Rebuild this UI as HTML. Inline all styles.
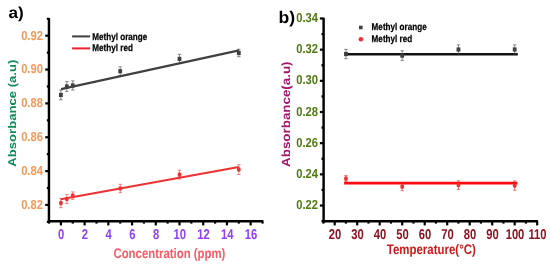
<!DOCTYPE html>
<html lang="en"><head><meta charset="utf-8"><title>Absorbance plots</title>
<style>
html,body{margin:0;padding:0;background:#fff;}
body{width:550px;height:264px;overflow:hidden;}
svg{display:block;font-family:"Liberation Sans", Arial, Helvetica, sans-serif;}
</style></head>
<body>
<svg width="550" height="264" viewBox="0 0 550 264" text-rendering="geometricPrecision">
<rect width="550" height="264" fill="#ffffff"/>
<path d="M48.95,17.97 V222.42" stroke="#000" stroke-width="2.45" fill="none"/>
<path d="M47.73,221.20 H263.32" stroke="#000" stroke-width="2.45" fill="none"/>
<path d="M46.83,221.88 H48.95" stroke="#000" stroke-width="2.2"/>
<path d="M45.23,204.95 H48.95" stroke="#000" stroke-width="2.2"/>
<path d="M46.83,188.02 H48.95" stroke="#000" stroke-width="2.2"/>
<path d="M45.23,171.10 H48.95" stroke="#000" stroke-width="2.2"/>
<path d="M46.83,154.17 H48.95" stroke="#000" stroke-width="2.2"/>
<path d="M45.23,137.25 H48.95" stroke="#000" stroke-width="2.2"/>
<path d="M46.83,120.32 H48.95" stroke="#000" stroke-width="2.2"/>
<path d="M45.23,103.40 H48.95" stroke="#000" stroke-width="2.2"/>
<path d="M46.83,86.48 H48.95" stroke="#000" stroke-width="2.2"/>
<path d="M45.23,69.55 H48.95" stroke="#000" stroke-width="2.2"/>
<path d="M46.83,52.63 H48.95" stroke="#000" stroke-width="2.2"/>
<path d="M45.23,35.70 H48.95" stroke="#000" stroke-width="2.2"/>
<path d="M46.83,18.77 H48.95" stroke="#000" stroke-width="2.2"/>
<path d="M49.04,221.20 V223.62" stroke="#000" stroke-width="2.2"/>
<path d="M60.90,221.20 V225.42" stroke="#000" stroke-width="2.2"/>
<path d="M72.76,221.20 V223.62" stroke="#000" stroke-width="2.2"/>
<path d="M84.62,221.20 V225.42" stroke="#000" stroke-width="2.2"/>
<path d="M96.48,221.20 V223.62" stroke="#000" stroke-width="2.2"/>
<path d="M108.34,221.20 V225.42" stroke="#000" stroke-width="2.2"/>
<path d="M120.20,221.20 V223.62" stroke="#000" stroke-width="2.2"/>
<path d="M132.06,221.20 V225.42" stroke="#000" stroke-width="2.2"/>
<path d="M143.92,221.20 V223.62" stroke="#000" stroke-width="2.2"/>
<path d="M155.78,221.20 V225.42" stroke="#000" stroke-width="2.2"/>
<path d="M167.64,221.20 V223.62" stroke="#000" stroke-width="2.2"/>
<path d="M179.50,221.20 V225.42" stroke="#000" stroke-width="2.2"/>
<path d="M191.36,221.20 V223.62" stroke="#000" stroke-width="2.2"/>
<path d="M203.22,221.20 V225.42" stroke="#000" stroke-width="2.2"/>
<path d="M215.08,221.20 V223.62" stroke="#000" stroke-width="2.2"/>
<path d="M226.94,221.20 V225.42" stroke="#000" stroke-width="2.2"/>
<path d="M238.80,221.20 V223.62" stroke="#000" stroke-width="2.2"/>
<path d="M250.66,221.20 V225.42" stroke="#000" stroke-width="2.2"/>
<path d="M262.52,221.20 V223.62" stroke="#000" stroke-width="2.2"/>
<text transform="translate(42.90,208.85) scale(0.86,1)" font-size="13.0" font-weight="bold" fill="#f39a58" text-anchor="end" >0.82</text>
<text transform="translate(42.90,175.00) scale(0.86,1)" font-size="13.0" font-weight="bold" fill="#f39a58" text-anchor="end" >0.84</text>
<text transform="translate(42.90,141.15) scale(0.86,1)" font-size="13.0" font-weight="bold" fill="#f39a58" text-anchor="end" >0.86</text>
<text transform="translate(42.90,107.30) scale(0.86,1)" font-size="13.0" font-weight="bold" fill="#f39a58" text-anchor="end" >0.88</text>
<text transform="translate(42.90,73.45) scale(0.86,1)" font-size="13.0" font-weight="bold" fill="#f39a58" text-anchor="end" >0.90</text>
<text transform="translate(42.90,39.60) scale(0.86,1)" font-size="13.0" font-weight="bold" fill="#f39a58" text-anchor="end" >0.92</text>
<text transform="translate(61.20,239.00) scale(0.79,1)" font-size="14.2" font-weight="bold" fill="#9040f8" text-anchor="middle" >0</text>
<text transform="translate(84.92,239.00) scale(0.79,1)" font-size="14.2" font-weight="bold" fill="#9040f8" text-anchor="middle" >2</text>
<text transform="translate(108.64,239.00) scale(0.79,1)" font-size="14.2" font-weight="bold" fill="#9040f8" text-anchor="middle" >4</text>
<text transform="translate(132.36,239.00) scale(0.79,1)" font-size="14.2" font-weight="bold" fill="#9040f8" text-anchor="middle" >6</text>
<text transform="translate(156.08,239.00) scale(0.79,1)" font-size="14.2" font-weight="bold" fill="#9040f8" text-anchor="middle" >8</text>
<text transform="translate(179.80,239.00) scale(0.79,1)" font-size="14.2" font-weight="bold" fill="#9040f8" text-anchor="middle" >10</text>
<text transform="translate(203.52,239.00) scale(0.79,1)" font-size="14.2" font-weight="bold" fill="#9040f8" text-anchor="middle" >12</text>
<text transform="translate(227.24,239.00) scale(0.79,1)" font-size="14.2" font-weight="bold" fill="#9040f8" text-anchor="middle" >14</text>
<text transform="translate(250.96,239.00) scale(0.79,1)" font-size="14.2" font-weight="bold" fill="#9040f8" text-anchor="middle" >16</text>
<text transform="translate(15.90,113.20) rotate(-90) scale(1.17,1)" font-size="11.2" font-weight="bold" fill="#0d8c5a" text-anchor="middle" >Absorbance (a.u)</text>
<text transform="translate(169.40,258.30) scale(0.825,1)" font-size="13.8" font-weight="bold" fill="#f85a62" text-anchor="middle" >Concentration (ppm)</text>
<text transform="translate(8.40,17.70) scale(1.07,1)" font-size="16.0" font-weight="bold" fill="#000" text-anchor="start" >a)</text>
<path d="M72.1,36.4 H90.1" stroke="#404040" stroke-width="2.0"/>
<path d="M72.1,48.4 H90.1" stroke="#f02030" stroke-width="2.0"/>
<text transform="translate(92.20,39.50) scale(0.83,1)" font-size="9.8" font-weight="bold" fill="#000" text-anchor="start" stroke="#000" stroke-width="0.25">Methyl orange</text>
<text transform="translate(92.20,51.30) scale(0.83,1)" font-size="9.8" font-weight="bold" fill="#000" text-anchor="start" stroke="#000" stroke-width="0.25">Methyl red</text>
<path d="M61.1,89.1 L239.0,50.4" stroke="#404040" stroke-width="2.1" fill="none"/>
<path d="M60.90,90.03 V99.85 M59.20,90.03 H62.60 M59.20,99.85 H62.60" stroke="#404040" stroke-width="0.75" fill="none" opacity="0.8"/>
<rect x="59.00" y="92.84" width="3.8" height="4.2" fill="#404040"/>
<path d="M66.83,81.57 V91.38 M65.13,81.57 H68.53 M65.13,91.38 H68.53" stroke="#404040" stroke-width="0.75" fill="none" opacity="0.8"/>
<rect x="64.93" y="84.38" width="3.8" height="4.2" fill="#404040"/>
<path d="M72.76,80.89 V90.03 M71.06,80.89 H74.46 M71.06,90.03 H74.46" stroke="#404040" stroke-width="0.75" fill="none" opacity="0.8"/>
<rect x="70.86" y="83.36" width="3.8" height="4.2" fill="#404040"/>
<path d="M120.20,66.84 V75.64 M118.50,66.84 H121.90 M118.50,75.64 H121.90" stroke="#404040" stroke-width="0.75" fill="none" opacity="0.8"/>
<rect x="118.30" y="69.14" width="3.8" height="4.2" fill="#404040"/>
<path d="M179.50,54.32 V63.46 M177.80,54.32 H181.20 M177.80,63.46 H181.20" stroke="#404040" stroke-width="0.75" fill="none" opacity="0.8"/>
<rect x="177.60" y="56.79" width="3.8" height="4.2" fill="#404040"/>
<path d="M238.80,49.24 V56.69 M237.10,49.24 H240.50 M237.10,56.69 H240.50" stroke="#404040" stroke-width="0.75" fill="none" opacity="0.8"/>
<rect x="236.90" y="50.86" width="3.8" height="4.2" fill="#404040"/>
<path d="M60.8,199.2 L238.8,167.0" stroke="#ee3232" stroke-width="2.1" fill="none"/>
<path d="M60.90,198.52 V207.66 M59.20,198.52 H62.60 M59.20,207.66 H62.60" stroke="#ee3232" stroke-width="0.75" fill="none" opacity="0.8"/>
<ellipse cx="60.90" cy="203.09" rx="1.95" ry="2.3" fill="#ee3232"/>
<path d="M66.83,194.63 V203.43 M65.13,194.63 H68.53 M65.13,203.43 H68.53" stroke="#ee3232" stroke-width="0.75" fill="none" opacity="0.8"/>
<ellipse cx="66.83" cy="199.03" rx="1.95" ry="2.3" fill="#ee3232"/>
<path d="M72.76,191.92 V199.36 M71.06,191.92 H74.46 M71.06,199.36 H74.46" stroke="#ee3232" stroke-width="0.75" fill="none" opacity="0.8"/>
<ellipse cx="72.76" cy="195.64" rx="1.95" ry="2.3" fill="#ee3232"/>
<path d="M120.20,184.30 V192.76 M118.50,184.30 H121.90 M118.50,192.76 H121.90" stroke="#ee3232" stroke-width="0.75" fill="none" opacity="0.8"/>
<ellipse cx="120.20" cy="188.53" rx="1.95" ry="2.3" fill="#ee3232"/>
<path d="M179.50,170.25 V179.05 M177.80,170.25 H181.20 M177.80,179.05 H181.20" stroke="#ee3232" stroke-width="0.75" fill="none" opacity="0.8"/>
<ellipse cx="179.50" cy="174.65" rx="1.95" ry="2.3" fill="#ee3232"/>
<path d="M238.80,164.67 V174.49 M237.10,164.67 H240.50 M237.10,174.49 H240.50" stroke="#ee3232" stroke-width="0.75" fill="none" opacity="0.8"/>
<ellipse cx="238.80" cy="169.58" rx="1.95" ry="2.3" fill="#ee3232"/>
<path d="M323.60,17.70 V222.42" stroke="#000" stroke-width="2.45" fill="none"/>
<path d="M322.38,221.20 H538.00" stroke="#000" stroke-width="2.45" fill="none"/>
<path d="M321.48,221.11 H323.60" stroke="#000" stroke-width="2.2"/>
<path d="M319.88,205.52 H323.60" stroke="#000" stroke-width="2.2"/>
<path d="M321.48,189.94 H323.60" stroke="#000" stroke-width="2.2"/>
<path d="M319.88,174.35 H323.60" stroke="#000" stroke-width="2.2"/>
<path d="M321.48,158.77 H323.60" stroke="#000" stroke-width="2.2"/>
<path d="M319.88,143.18 H323.60" stroke="#000" stroke-width="2.2"/>
<path d="M321.48,127.60 H323.60" stroke="#000" stroke-width="2.2"/>
<path d="M319.88,112.01 H323.60" stroke="#000" stroke-width="2.2"/>
<path d="M321.48,96.43 H323.60" stroke="#000" stroke-width="2.2"/>
<path d="M319.88,80.84 H323.60" stroke="#000" stroke-width="2.2"/>
<path d="M321.48,65.26 H323.60" stroke="#000" stroke-width="2.2"/>
<path d="M319.88,49.67 H323.60" stroke="#000" stroke-width="2.2"/>
<path d="M321.48,34.09 H323.60" stroke="#000" stroke-width="2.2"/>
<path d="M319.88,18.50 H323.60" stroke="#000" stroke-width="2.2"/>
<path d="M323.45,221.20 V223.62" stroke="#000" stroke-width="2.2"/>
<path d="M334.70,221.20 V225.42" stroke="#000" stroke-width="2.2"/>
<path d="M345.95,221.20 V223.62" stroke="#000" stroke-width="2.2"/>
<path d="M357.20,221.20 V225.42" stroke="#000" stroke-width="2.2"/>
<path d="M368.45,221.20 V223.62" stroke="#000" stroke-width="2.2"/>
<path d="M379.70,221.20 V225.42" stroke="#000" stroke-width="2.2"/>
<path d="M390.95,221.20 V223.62" stroke="#000" stroke-width="2.2"/>
<path d="M402.20,221.20 V225.42" stroke="#000" stroke-width="2.2"/>
<path d="M413.45,221.20 V223.62" stroke="#000" stroke-width="2.2"/>
<path d="M424.70,221.20 V225.42" stroke="#000" stroke-width="2.2"/>
<path d="M435.95,221.20 V223.62" stroke="#000" stroke-width="2.2"/>
<path d="M447.20,221.20 V225.42" stroke="#000" stroke-width="2.2"/>
<path d="M458.45,221.20 V223.62" stroke="#000" stroke-width="2.2"/>
<path d="M469.70,221.20 V225.42" stroke="#000" stroke-width="2.2"/>
<path d="M480.95,221.20 V223.62" stroke="#000" stroke-width="2.2"/>
<path d="M492.20,221.20 V225.42" stroke="#000" stroke-width="2.2"/>
<path d="M503.45,221.20 V223.62" stroke="#000" stroke-width="2.2"/>
<path d="M514.70,221.20 V225.42" stroke="#000" stroke-width="2.2"/>
<path d="M525.95,221.20 V223.62" stroke="#000" stroke-width="2.2"/>
<path d="M537.20,221.20 V225.42" stroke="#000" stroke-width="2.2"/>
<text transform="translate(318.00,209.12) scale(0.86,1)" font-size="13.0" font-weight="bold" fill="#4f7a12" text-anchor="end" >0.22</text>
<text transform="translate(318.00,177.95) scale(0.86,1)" font-size="13.0" font-weight="bold" fill="#4f7a12" text-anchor="end" >0.24</text>
<text transform="translate(318.00,146.78) scale(0.86,1)" font-size="13.0" font-weight="bold" fill="#4f7a12" text-anchor="end" >0.26</text>
<text transform="translate(318.00,115.61) scale(0.86,1)" font-size="13.0" font-weight="bold" fill="#4f7a12" text-anchor="end" >0.28</text>
<text transform="translate(318.00,84.44) scale(0.86,1)" font-size="13.0" font-weight="bold" fill="#4f7a12" text-anchor="end" >0.30</text>
<text transform="translate(318.00,53.27) scale(0.86,1)" font-size="13.0" font-weight="bold" fill="#4f7a12" text-anchor="end" >0.32</text>
<text transform="translate(318.00,22.10) scale(0.86,1)" font-size="13.0" font-weight="bold" fill="#4f7a12" text-anchor="end" >0.34</text>
<text transform="translate(335.00,238.70) scale(0.79,1)" font-size="14.2" font-weight="bold" fill="#8e1220" text-anchor="middle" >20</text>
<text transform="translate(357.50,238.70) scale(0.79,1)" font-size="14.2" font-weight="bold" fill="#8e1220" text-anchor="middle" >30</text>
<text transform="translate(380.00,238.70) scale(0.79,1)" font-size="14.2" font-weight="bold" fill="#8e1220" text-anchor="middle" >40</text>
<text transform="translate(402.50,238.70) scale(0.79,1)" font-size="14.2" font-weight="bold" fill="#8e1220" text-anchor="middle" >50</text>
<text transform="translate(425.00,238.70) scale(0.79,1)" font-size="14.2" font-weight="bold" fill="#8e1220" text-anchor="middle" >60</text>
<text transform="translate(447.50,238.70) scale(0.79,1)" font-size="14.2" font-weight="bold" fill="#8e1220" text-anchor="middle" >70</text>
<text transform="translate(470.00,238.70) scale(0.79,1)" font-size="14.2" font-weight="bold" fill="#8e1220" text-anchor="middle" >80</text>
<text transform="translate(492.50,238.70) scale(0.79,1)" font-size="14.2" font-weight="bold" fill="#8e1220" text-anchor="middle" >90</text>
<text transform="translate(515.00,238.70) scale(0.79,1)" font-size="14.2" font-weight="bold" fill="#8e1220" text-anchor="middle" >100</text>
<text transform="translate(537.50,238.70) scale(0.79,1)" font-size="14.2" font-weight="bold" fill="#8e1220" text-anchor="middle" >110</text>
<text transform="translate(290.10,114.15) rotate(-90) scale(1.133,1)" font-size="11.8" font-weight="bold" fill="#a3166e" text-anchor="middle" >Absorbance(a.u)</text>
<text transform="translate(431.30,254.00) scale(0.83,1)" font-size="13.8" font-weight="bold" fill="#cc1a1a" text-anchor="middle" >Temperature(°C)</text>
<text transform="translate(278.40,22.85) scale(1.05,1)" font-size="16.8" font-weight="bold" fill="#000" text-anchor="start" >b)</text>
<rect x="359.0" y="25.7" width="3.6" height="3.6" fill="#404040"/>
<circle cx="360.9" cy="39.3" r="2.3" fill="#f03038"/>
<text transform="translate(371.60,30.20) scale(0.83,1)" font-size="9.8" font-weight="bold" fill="#000" text-anchor="start" stroke="#000" stroke-width="0.25">Methyl orange</text>
<text transform="translate(371.60,42.20) scale(0.83,1)" font-size="9.8" font-weight="bold" fill="#000" text-anchor="start" stroke="#000" stroke-width="0.25">Methyl red</text>
<path d="M346.0,54.3 H517.8" stroke="#111" stroke-width="2.4"/>
<path d="M345.95,49.36 V58.71 M344.25,49.36 H347.65 M344.25,58.71 H347.65" stroke="#404040" stroke-width="0.75" fill="none" opacity="0.8"/>
<rect x="344.05" y="51.93" width="3.8" height="4.2" fill="#404040"/>
<path d="M402.20,50.76 V60.42 M400.50,50.76 H403.90 M400.50,60.42 H403.90" stroke="#404040" stroke-width="0.75" fill="none" opacity="0.8"/>
<rect x="400.30" y="53.49" width="3.8" height="4.2" fill="#404040"/>
<path d="M458.45,44.84 V54.19 M456.75,44.84 H460.15 M456.75,54.19 H460.15" stroke="#404040" stroke-width="0.75" fill="none" opacity="0.8"/>
<rect x="456.55" y="47.41" width="3.8" height="4.2" fill="#404040"/>
<path d="M514.70,44.84 V54.19 M513.00,44.84 H516.40 M513.00,54.19 H516.40" stroke="#404040" stroke-width="0.75" fill="none" opacity="0.8"/>
<rect x="512.80" y="47.41" width="3.8" height="4.2" fill="#404040"/>
<path d="M344.1,183.1 H517.4" stroke="#fb0d0d" stroke-width="2.6"/>
<path d="M345.95,175.60 V181.83 M344.25,175.60 H347.65 M344.25,181.83 H347.65" stroke="#f02020" stroke-width="0.75" fill="none" opacity="0.8"/>
<ellipse cx="345.95" cy="178.71" rx="1.95" ry="2.35" fill="#f03030"/>
<path d="M402.20,182.61 V190.71 M400.50,182.61 H403.90 M400.50,190.71 H403.90" stroke="#f02020" stroke-width="0.75" fill="none" opacity="0.8"/>
<ellipse cx="402.20" cy="186.66" rx="1.95" ry="2.35" fill="#f03030"/>
<path d="M458.45,180.74 V189.47 M456.75,180.74 H460.15 M456.75,189.47 H460.15" stroke="#f02020" stroke-width="0.75" fill="none" opacity="0.8"/>
<ellipse cx="458.45" cy="185.10" rx="1.95" ry="2.35" fill="#f03030"/>
<path d="M514.70,180.90 V190.25 M513.00,180.90 H516.40 M513.00,190.25 H516.40" stroke="#f02020" stroke-width="0.75" fill="none" opacity="0.8"/>
<ellipse cx="514.70" cy="185.57" rx="1.95" ry="2.35" fill="#f03030"/>
</svg>
</body></html>
